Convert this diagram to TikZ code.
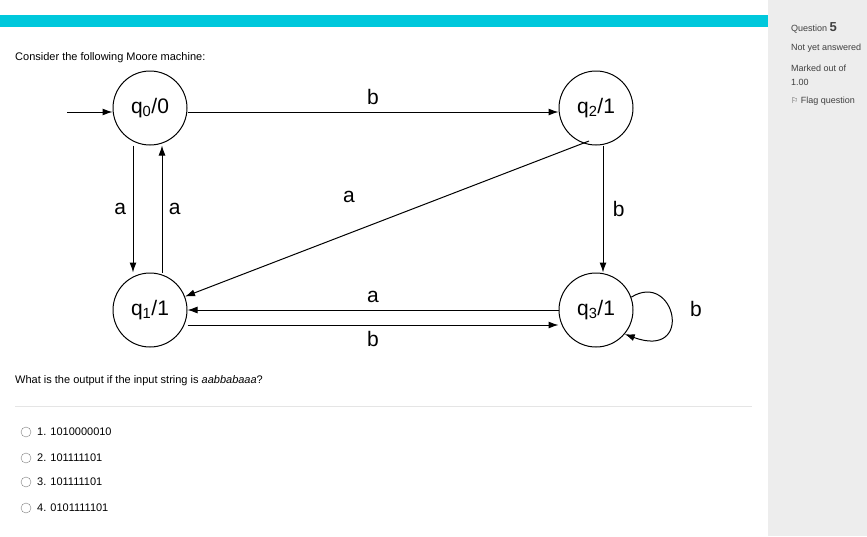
\documentclass[tikz,border=0pt]{standalone}
\usepackage{fontspec}
\setmainfont{Liberation Sans}
\newfontfamily\djvfont{DejaVu Sans}
\usetikzlibrary{arrows.meta}
\begin{document}
\begin{tikzpicture}[x=1pt,y=-1pt,
  st/.style={draw,circle,line width=1pt,minimum size=74pt,inner sep=0pt,font=\fontsize{21}{24}\selectfont},
  tr/.style={-{Latex[length=10pt,width=7pt]},line width=1pt},
  lb/.style={font=\fontsize{21}{24}\selectfont},
  tx/.style={anchor=west,font=\fontsize{11}{13}\selectfont,inner sep=0pt},
  sb/.style={anchor=west,font=\fontsize{9}{11}\selectfont,inner sep=0pt,text=black!75}]
\useasboundingbox (0,0) rectangle (867,536);
\fill[white] (0,0) rectangle (867,536);
\fill[black!7] (768,0) rectangle (867,536);
\fill[fill={rgb,255:red,0;green,200;blue,220}] (0,15) rectangle (768,27);
\node[sb] (s1) at (791,28) {Question \textbf{\fontsize{13}{14}\selectfont 5}};
\node[sb] (s2) at (791,48) {Not yet answered};
\node[sb] (s3) at (791,68) {Marked out of};
\node[sb] (s4) at (791,82) {1.00};
\node[sb] (s5) at (791,101) {{\djvfont\fontsize{8}{9}\selectfont ⚐} Flag question};
\node[tx] (t1) at (15,58) {Consider the following Moore machine:};
\node (q0) [st] at (150,108) {q\textsubscript{0}/0};
\node (q2) [st] at (596,108) {q\textsubscript{2}/1};
\node (q1) [st] at (150,310) {q\textsubscript{1}/1};
\node (q3) [st] at (596,310) {q\textsubscript{3}/1};
\coordinate (in) at (67,112);
\draw[tr] (in) -- (q0.west |- in);
\draw[tr] ([yshift=-4pt]q0.east) -- ([yshift=-4pt]q2.west) node[lb,midway,above=3pt] {b};
\draw[tr] ([xshift=-17pt]q0.south) -- ([xshift=-17pt]q1.north) node[lb,midway,left=3pt] {a};
\draw[tr] ([xshift=12pt]q1.north) -- ([xshift=12pt]q0.south) node[lb,midway,right=3pt] {a};
\coordinate (d2) at (589,141);
\draw[tr] (d2) -- (q1);
\draw[tr] ([xshift=7pt]q2.south) -- ([xshift=7pt]q3.north) node[lb,midway,right=6pt] {b};
\draw[tr] (q3.west) -- (q1.east) node[lb,midway,above=3pt] {a};
\draw[tr] ([yshift=-15pt]q1.east) -- ([yshift=-15pt]q3.west) node[lb,midway,below=2pt] {b};
\draw[tr] (q3.20) .. controls (675,270) and (695,360) .. (q3.-40);
\node[lb] (lp) at (696,309) {b};
\node[lb] (la) at (349,197) {a};
\node[tx] (t2) at (15,381) {What is the output if the input string is \textit{aabbabaaa}?};
\draw[black!10] (15,406) -- (752,406);
\foreach \y/\t in {432/1. 1010000010,458/2. 101111101,482/3. 101111101,508/4. 0101111101}{
  \draw[black!50] (26,\y) circle (5);
  \node[tx] at (37,\y) {\t};
}
\end{tikzpicture}
\end{document}
